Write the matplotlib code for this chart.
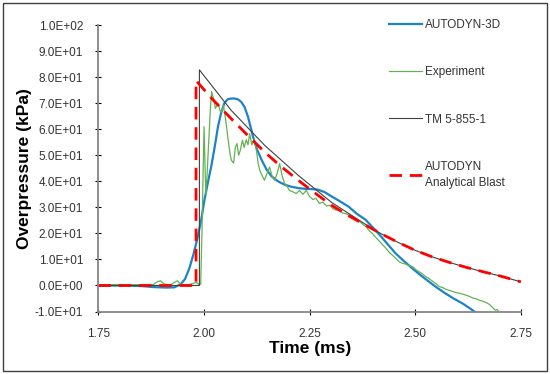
import numpy as np
import matplotlib
matplotlib.use('Agg')
import matplotlib.pyplot as plt
from matplotlib.patches import Rectangle
from matplotlib.ticker import FuncFormatter, MultipleLocator

plt.rcParams['font.family'] = ['Liberation Sans', 'DejaVu Sans']

# AUTODYN-3D (blue)
t_3d = [1.750, 1.800, 1.850, 1.880, 1.910, 1.930, 1.945, 1.955, 1.965, 1.975,
        1.985, 1.993, 2.001, 2.009, 2.017, 2.025, 2.033, 2.040, 2.048, 2.056,
        2.064, 2.072, 2.080, 2.088, 2.096, 2.104, 2.110, 2.116, 2.126, 2.136,
        2.148, 2.160, 2.175, 2.191, 2.207, 2.223, 2.240, 2.255, 2.270, 2.286,
        2.302, 2.322, 2.342, 2.362, 2.382, 2.400, 2.418, 2.435, 2.453, 2.473,
        2.493, 2.513, 2.533, 2.552, 2.572, 2.592, 2.612, 2.626, 2.640]
p_3d = [0.0, 0.0, -0.2, -0.6, -0.8, -0.7, 0.5, 2.5, 6.5, 12.0,
        18.6, 25.0, 32.9, 39.5, 45.7, 53.0, 61.0, 66.0, 70.0, 71.5,
        71.8, 71.8, 71.5, 70.5, 68.5, 64.8, 61.0, 57.1, 52.0, 48.3,
        44.5, 41.9, 40.0, 38.7, 37.9, 37.4, 37.1, 37.0, 36.8, 35.8,
        34.2, 32.3, 30.3, 27.5, 25.3, 22.2, 19.0, 15.8, 12.4, 9.4,
        6.6, 3.9, 1.4, -0.9, -3.1, -5.1, -6.9, -8.4, -10.0]

# Experiment (green)
t_exp = [1.750, 1.800, 1.850, 1.880, 1.890, 1.897, 1.905, 1.920, 1.930, 1.937,
         1.944, 1.960, 1.975, 1.982, 1.988, 1.992, 1.995, 1.998, 2.000, 2.002,
         2.004, 2.007, 2.011, 2.015, 2.018, 2.022, 2.027, 2.033, 2.038, 2.041,
         2.046, 2.050, 2.054, 2.057, 2.062, 2.065, 2.070, 2.074, 2.078, 2.082,
         2.086, 2.091, 2.095, 2.100, 2.104, 2.108, 2.113, 2.118, 2.124, 2.128,
         2.132, 2.138, 2.143, 2.149, 2.155, 2.161, 2.167, 2.173, 2.179, 2.185,
         2.191, 2.197, 2.202, 2.210, 2.218, 2.226, 2.234, 2.242, 2.250, 2.258,
         2.265, 2.273, 2.281, 2.290, 2.298, 2.305, 2.313, 2.320, 2.328, 2.336,
         2.345, 2.352, 2.360, 2.368, 2.376, 2.384, 2.391, 2.399, 2.407, 2.415,
         2.423, 2.431, 2.439, 2.447, 2.455, 2.462, 2.470, 2.478, 2.486, 2.494,
         2.502, 2.510, 2.518, 2.525, 2.533, 2.541, 2.549, 2.557, 2.565, 2.573,
         2.581, 2.590, 2.598, 2.606, 2.614, 2.620, 2.628, 2.636, 2.644, 2.651,
         2.659, 2.667, 2.675, 2.682, 2.690, 2.694, 2.697]
p_exp = [0.3, 0.3, 0.3, 0.4, 1.5, 1.8, 0.6, 0.2, 1.2, 1.8,
         0.5, 0.2, 0.8, 1.2, 0.3, 0.5, 20.0, 45.0, 61.0, 48.0,
         35.0, 42.0, 55.0, 68.0, 74.4, 72.0, 68.0, 70.0, 67.0, 66.5,
         69.0, 65.0, 60.0, 56.0, 50.0, 48.0, 47.0, 53.0, 54.5, 50.0,
         52.0, 55.8, 53.0, 56.0, 54.0, 58.3, 54.0, 56.0, 51.9, 47.0,
         44.2, 42.0, 40.4, 43.0, 45.5, 42.0, 40.4, 43.0, 46.8, 42.0,
         39.1, 38.0, 36.5, 36.0, 35.3, 36.5, 35.0, 36.5, 34.1, 33.0,
         33.5, 31.5, 32.0, 30.5, 30.8, 29.5, 28.9, 29.2, 27.8, 27.6,
         26.8, 26.5, 25.5, 24.6, 23.5, 22.5, 21.0, 19.9, 18.4, 17.0,
         15.6, 14.2, 12.6, 11.5, 10.2, 9.1, 8.5, 8.2, 7.6, 7.2,
         6.0, 5.2, 4.3, 3.4, 2.6, 1.6, 0.7, -0.4, -0.8, -1.5,
         -1.9, -2.4, -2.8, -3.0, -3.4, -3.7, -4.2, -4.8, -5.1, -5.6,
         -6.0, -6.5, -7.2, -8.3, -9.5, -9.2, -10.0]

# TM 5-855-1 (black)
t_tm = [1.750, 1.989, 1.989, 2.064, 2.143, 2.223, 2.302, 2.382, 2.420, 2.460,
        2.500, 2.540, 2.580, 2.620, 2.660, 2.700, 2.750]
p_tm = [0.0, 0.0, 82.8, 67.3, 53.9, 42.3, 31.9, 23.5, 19.8, 16.5,
        13.5, 11.0, 8.9, 7.0, 5.3, 3.7, 1.4]

# AUTODYN Analytical Blast (red dashed)
t_ab = [1.750, 1.981, 1.981, 2.020, 2.064, 2.100, 2.143, 2.180, 2.223, 2.260,
        2.302, 2.340, 2.382, 2.420, 2.460, 2.500, 2.540, 2.580, 2.620, 2.660,
        2.700, 2.750]
p_ab = [0.0, 0.0, 78.7, 71.5, 64.1, 58.2, 51.3, 46.0, 40.4, 35.8,
        30.8, 27.0, 23.2, 19.8, 16.5, 13.5, 11.0, 8.9, 7.0, 5.3,
        3.7, 1.4]

fig = plt.figure(figsize=(5.5, 3.74), dpi=100)
ax = fig.add_axes([0.179, 0.167, 0.768, 0.766])

ax.plot(t_3d, p_3d, color='#1B83C6', lw=1.6, label='AUTODYN-3D')
ax.plot(t_exp, p_exp, color='#62B254', lw=0.9, label='Experiment')
ax.plot(t_tm, p_tm, color='#404040', lw=0.8, label='TM 5-855-1')
ax.plot(t_ab, p_ab, color='#FF0000', lw=2.0, dashes=(4.5, 2.8),
        label='AUTODYN\nAnalytical Blast')

ax.set_xlim(1.75, 2.75)
ax.set_ylim(-10, 100)
ax.xaxis.set_major_locator(MultipleLocator(0.25))
ax.yaxis.set_major_locator(MultipleLocator(10))
ax.xaxis.set_major_formatter(FuncFormatter(lambda v, pos: f'{v:.2f}'))
ax.yaxis.set_major_formatter(FuncFormatter(lambda v, pos: f'{v:.1E}'))

for s in ['top', 'right']:
    ax.spines[s].set_visible(False)
for s in ['left', 'bottom']:
    ax.spines[s].set_color('#868686')
    ax.spines[s].set_linewidth(1.3)

ax.tick_params(axis='y', direction='inout', length=5, width=0.8, color='black',
               labelsize=8.5, labelcolor='#333333', pad=8.5)
ax.tick_params(axis='x', direction='inout', length=5, width=0.8, color='black',
               labelsize=8.5, labelcolor='#333333', pad=9)

ax.set_xlabel('Time (ms)', fontsize=12.5, fontweight='bold', labelpad=1)
ax.set_ylabel('Overpressure (kPa)', fontsize=12.5, fontweight='bold', labelpad=2)

leg = fig.legend(loc='upper left', bbox_to_anchor=(0.707, 0.950), frameon=False,
                 fontsize=8.5, labelspacing=3.0, handlelength=2.8, handletextpad=0.3,
                 borderpad=0, borderaxespad=0, labelcolor='#333333')
for txt in leg.get_texts():
    txt.set_linespacing(1.4)

fig.add_artist(Rectangle((0.005, 0.009), 0.989, 0.984, transform=fig.transFigure,
                         fill=False, edgecolor='#3f3f3f', lw=1.0))

fig.savefig('out.png', dpi=100)
